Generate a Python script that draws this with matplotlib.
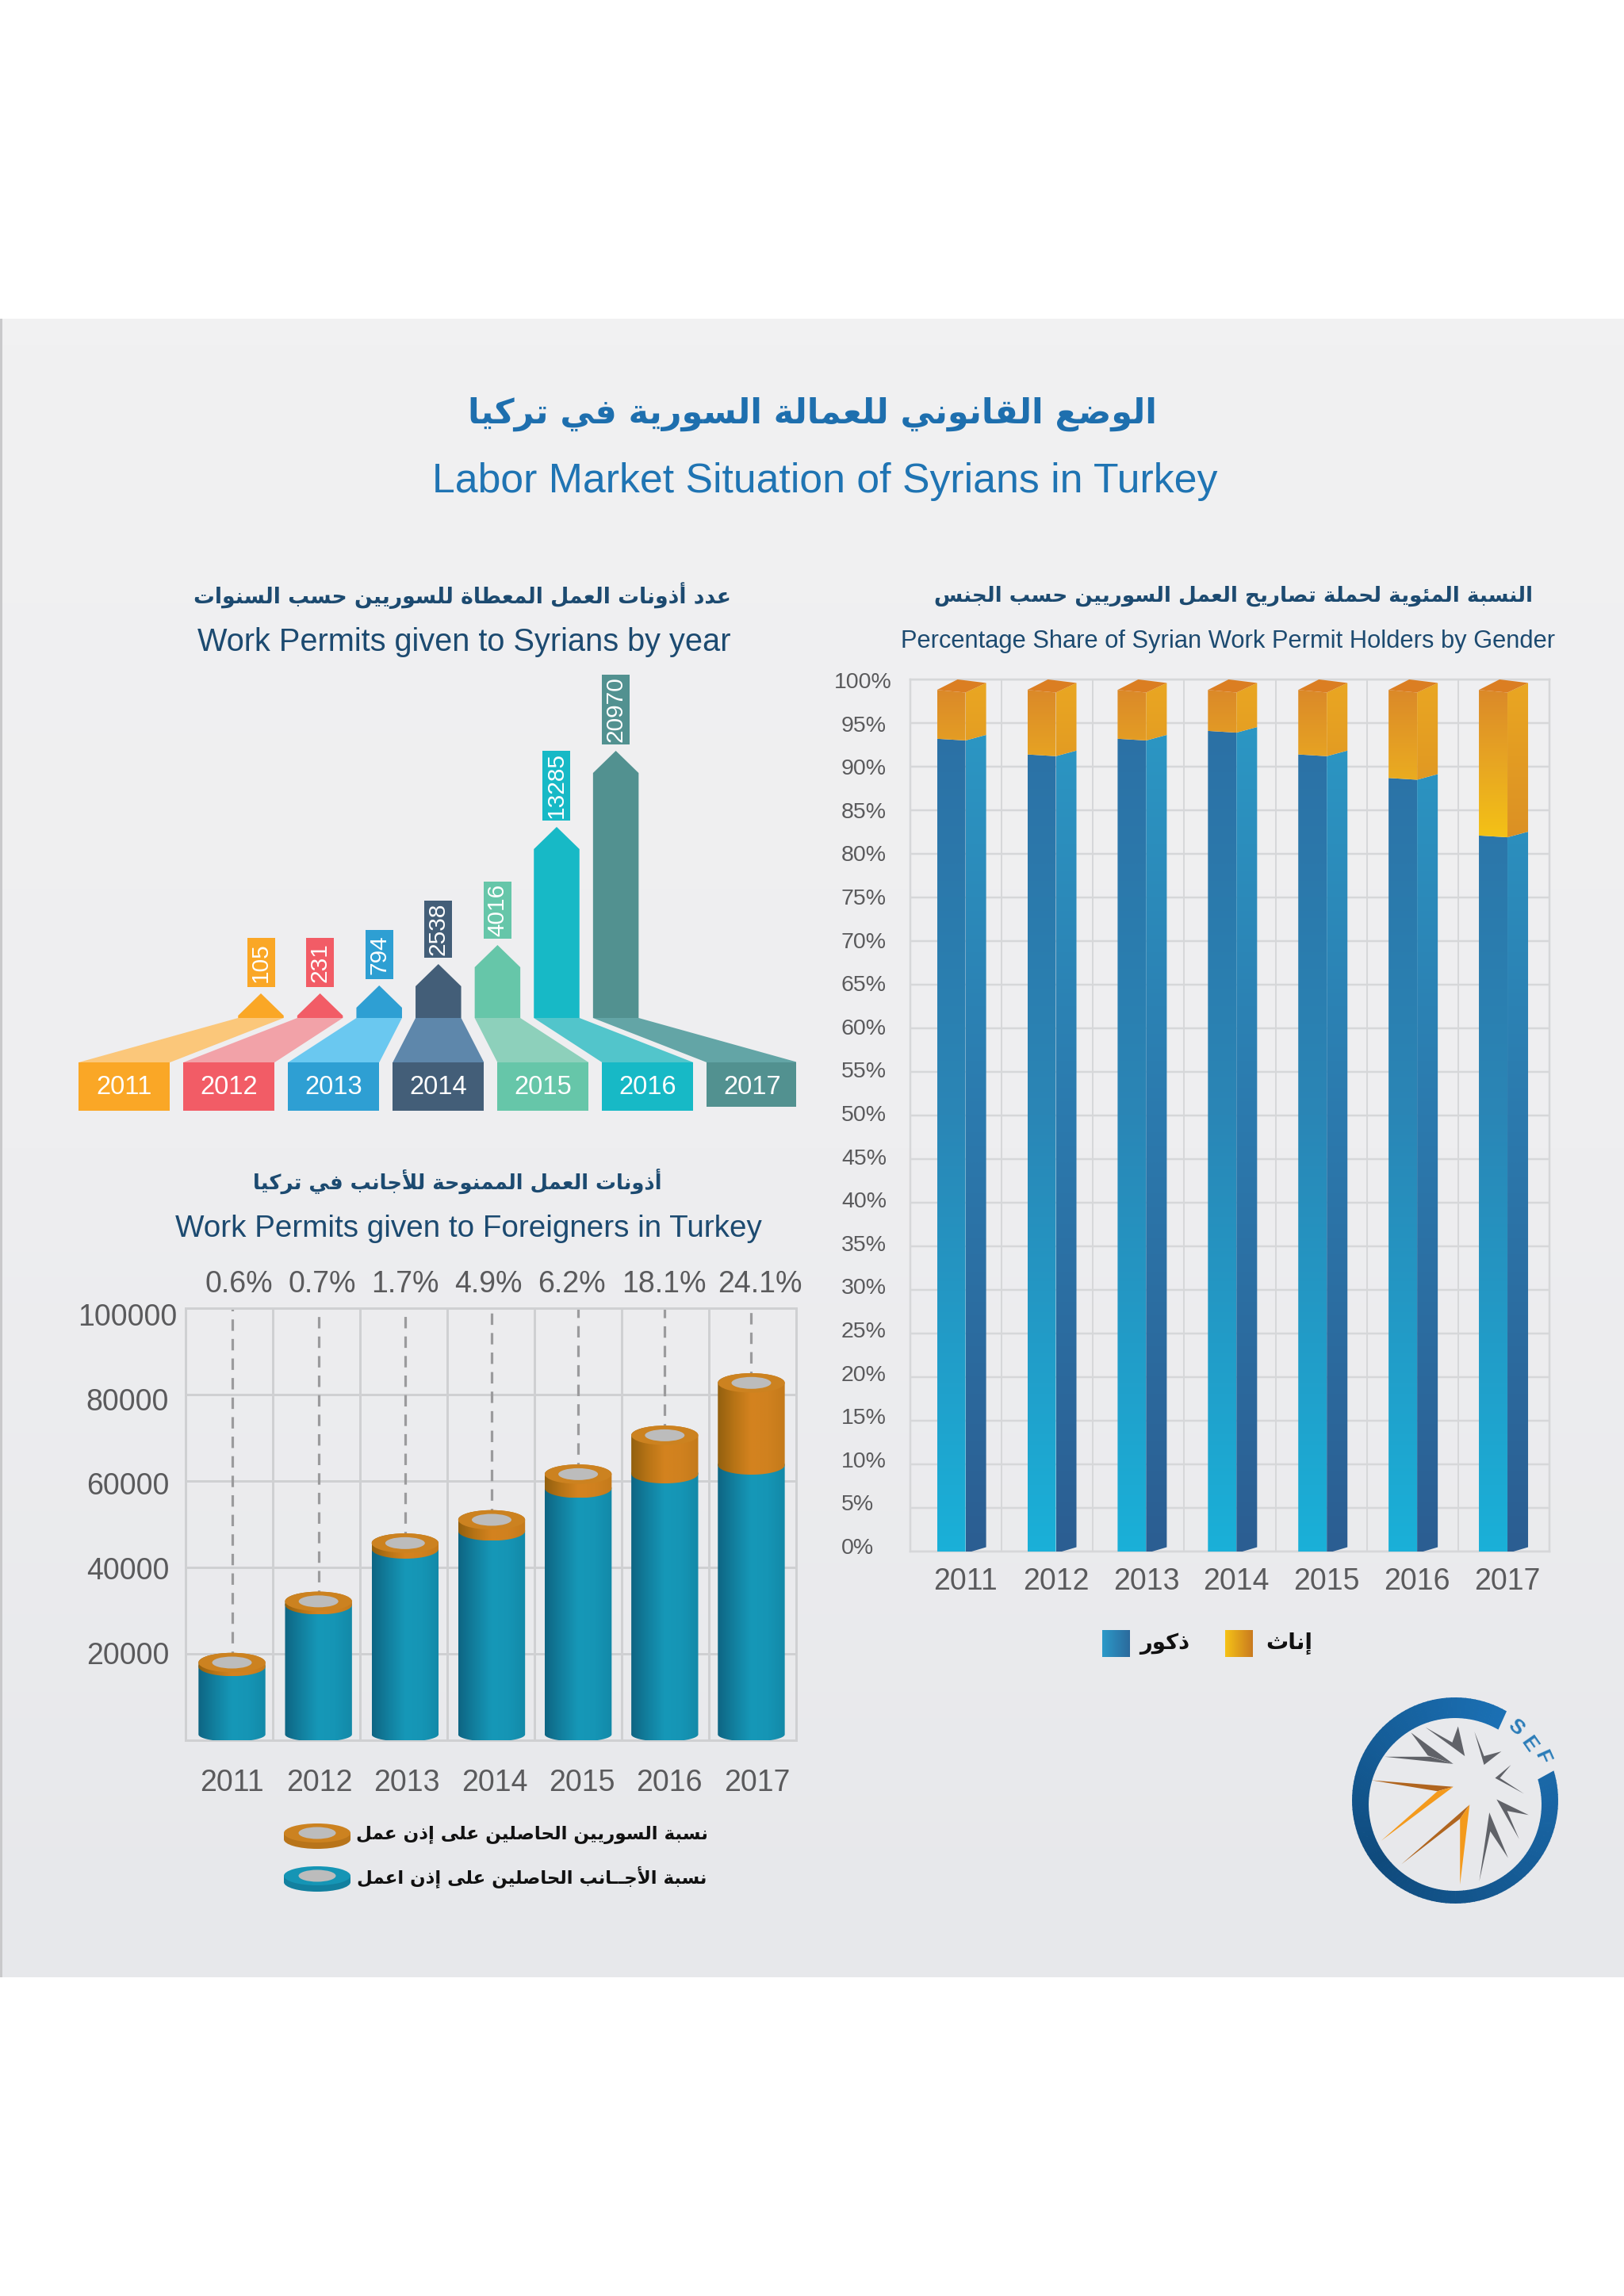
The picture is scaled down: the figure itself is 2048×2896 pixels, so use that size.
import unicodedata
import numpy as np
import matplotlib
matplotlib.use("Agg")
from matplotlib import pyplot as plt
from matplotlib.colors import LinearSegmentedColormap
from matplotlib.patches import Polygon, Ellipse, Rectangle
from matplotlib.transforms import Affine2D

W, H = 2048, 2896
PX = 0.72  # points per pixel at dpi 100

# data
years = ["2011", "2012", "2013", "2014", "2015", "2016", "2017"]

syrian_permits = ["105", "231", "794", "2538", "4016", "13285", "20970"]
arrow_heights = [31, 31, 41, 68, 92, 241, 337]

foreign_permits = [17080, 31350, 44270, 48430, 58320, 61690, 63710]
syrian_part = [900, 790, 1350, 2580, 3260, 8880, 18990]
syrian_share = ["0.6%", "0.7%", "1.7%", "4.9%", "6.2%", "18.1%", "24.1%"]
foreign_ticks = [20000, 40000, 60000, 80000, 100000]

male_share = [93.0, 91.2, 93.0, 93.9, 91.2, 88.5, 81.9]
percent_ticks = list(range(0, 101, 5))

# styles
box_colors = ["#faa726", "#f25c66", "#2e9fd3", "#435e78", "#66c6a9", "#17b9c6", "#529190"]
fan_colors = ["#fbc77a", "#f2a2a8", "#6ac8f0", "#5e87ab", "#8dd0bb", "#52c5cb", "#63a5a6"]
share_x = [301, 406, 511, 616, 721, 837, 958]
TITLE_BLUE = "#1f74b3"
NAVY = "#1c4a70"
GREY_TXT = "#5a5a5c"
GRID = "#cfd0d2"

AR_LIG = {"لا": "ARABIC LIGATURE LAM WITH ALEF",
          "لأ": "ARABIC LIGATURE LAM WITH ALEF WITH HAMZA ABOVE",
          "لإ": "ARABIC LIGATURE LAM WITH ALEF WITH HAMZA BELOW"}


def form(ch, kind):
    try:
        return unicodedata.lookup(unicodedata.name(ch) + " " + kind + " FORM")
    except KeyError:
        return None


def shape_ar(text):
    # matplotlib does no arabic shaping, so pick presentation forms by hand
    out = []
    i = 0
    n = len(text)

    def joins_forward(c):
        return c == "ـ" or form(c, "INITIAL") is not None

    def joins_back(c):
        return c == "ـ" or form(c, "FINAL") is not None

    while i < n:
        ch = text[i]
        prev = text[i - 1] if i > 0 else " "
        after_join = joins_forward(prev) if prev != " " else False
        if text[i:i + 2] in AR_LIG:
            kind = "FINAL" if after_join else "ISOLATED"
            out.append(unicodedata.lookup(AR_LIG[text[i:i + 2]] + " " + kind + " FORM"))
            i += 2
            continue
        nxt = text[i + 1] if i + 1 < n else " "
        if ch == " " or ch == "ـ":
            out.append(ch)
            i += 1
            continue
        before_join = joins_forward(ch) and nxt != " " and joins_back(nxt)
        if after_join and before_join:
            kind = "MEDIAL"
        elif after_join:
            kind = "FINAL"
        elif before_join:
            kind = "INITIAL"
        else:
            kind = "ISOLATED"
        out.append(form(ch, kind) or ch)
        i += 1
    return "".join(out)[::-1]


def px_axes(left, top, right, bottom):
    ax = fig.add_axes([left / W, 1 - bottom / H, (right - left) / W, (bottom - top) / H])
    ax.patch.set_alpha(0)
    return ax


def fit_text(s, x0, x1, y, **kw):
    # size a text so it spans x0..x1 in picture pixels
    t = ax_bg.text((x0 + x1) / 2, y, s, ha="center", va="center", fontsize=30, **kw)
    w = t.get_window_extent(renderer).width
    t.set_fontsize(30 * (x1 - x0) / w)
    return t


def fill_gradient(ax, poly, colors, extent, horizontal=False, zorder=3):
    cmap = LinearSegmentedColormap.from_list("g", colors)
    ramp = np.linspace(0, 1, 256)
    ramp = ramp.reshape(1, -1) if horizontal else ramp.reshape(-1, 1)
    im = ax.imshow(ramp, cmap=cmap, extent=extent, origin="lower", aspect="auto",
                   zorder=zorder, interpolation="bilinear", vmin=0, vmax=1)
    clip = Polygon(poly, closed=True, transform=ax.transData, fc="none", ec="none")
    ax.add_patch(clip)
    im.set_clip_path(clip)
    im.set_clip_on(True)
    return im


def shift_labels(labels, dx=0, dy=0):
    for lab in labels:
        lab.set_transform(lab.get_transform() + Affine2D().translate(dx, dy))


fig = plt.figure(figsize=(W / 100, H / 100), dpi=100, facecolor="white")
renderer = fig.canvas.get_renderer()

# page, titles, logo all live on one pixel axes
ax_bg = fig.add_axes([0, 0, 1, 1], zorder=0)
ax_bg.set_xlim(0, W)
ax_bg.set_ylim(H, 0)
ax_bg.axis("off")
ax_bg.imshow(np.linspace(0, 1, 64).reshape(-1, 1),
             cmap=LinearSegmentedColormap.from_list("bg", ["#f1f1f2", "#eeeef0", "#e7e8eb"]),
             extent=(0, W, 2494, 402), aspect="auto", zorder=0)
ax_bg.set_xlim(0, W)
ax_bg.set_ylim(H, 0)
ax_bg.add_patch(Rectangle((0, 402), 2.5, 2092, fc="#c9c9cb", ec="none", zorder=1))

LATIN = "Liberation Sans"
ARAB = "DejaVu Sans"
fit_text(shape_ar("الوضع القانوني للعمالة السورية في تركيا"), 591, 1458, 522,
         color="#1e6fae", family=ARAB, weight="bold")
fit_text("Labor Market Situation of Syrians in Turkey", 546, 1535, 607,
         color=TITLE_BLUE, family=LATIN)
fit_text(shape_ar("عدد أذونات العمل المعطاة للسوريين حسب السنوات"), 244, 921, 751,
         color=NAVY, family=ARAB, weight="bold")
fit_text("Work Permits given to Syrians by year", 249, 922, 810, color=NAVY, family=LATIN)
fit_text(shape_ar("أذونات العمل الممنوحة للأجانب في تركيا"), 319, 834, 1490,
         color=NAVY, family=ARAB, weight="bold")
fit_text("Work Permits given to Foreigners in Turkey", 221, 961, 1550, color=NAVY, family=LATIN)
fit_text(shape_ar("النسبة المئوية لحملة تصاريح العمل السوريين حسب الجنس"), 1179, 1931, 752,
         color=NAVY, family=ARAB, weight="bold")
fit_text("Percentage Share of Syrian Work Permit Holders by Gender", 1137, 1961, 809,
         color=NAVY, family=LATIN)

# arrows chart: one data unit on y is one pixel
ax_arrows = px_axes(98, 840, 1004, 1410)
ax_arrows.set_xlim((98 - 329) / 74.6, (1004 - 329) / 74.6)
ax_arrows.set_ylim(-126, 444)
ax_arrows.axis("off")
arrow_w = 57.5 / 74.6
box_w = 115 / 74.6
for i, year in enumerate(years):
    h = arrow_heights[i]
    sh = max(0, h - 28)
    ax_arrows.add_patch(Polygon([(i - arrow_w / 2, 0), (i - arrow_w / 2, sh), (i, h),
                                 (i + arrow_w / 2, sh), (i + arrow_w / 2, 0)],
                                fc=box_colors[i], ec="none"))
    bx = 3 + (i - 3) * 132.0 / 74.6
    bottom = -117 if i < 6 else -112
    ax_arrows.add_patch(Polygon([(i - arrow_w / 2, 0), (i + arrow_w / 2, 0),
                                 (bx + box_w / 2, -56), (bx - box_w / 2, -56)],
                                fc=fan_colors[i], ec="none"))
    ax_arrows.add_patch(Rectangle((bx - box_w / 2, bottom), box_w, bottom * -1 - 56,
                                  fc=box_colors[i], ec="none"))
    ax_arrows.text(bx, -88, year, color="white", family=LATIN, fontsize=23.5,
                   ha="center", va="center")
    label = syrian_permits[i]
    length = {3: 62, 4: 72, 5: 88}[len(label)]
    ax_arrows.add_patch(Rectangle((i - 17.5 / 74.6, h + 8), 35 / 74.6, length,
                                  fc=box_colors[i], ec="none"))
    ax_arrows.text(i, h + 8 + length / 2, label, color="white", family=LATIN, fontsize=21.5,
                   rotation=90, ha="center", va="center")

# foreigners chart
ax_f = px_axes(234, 1650, 1004, 2195)
ax_f.set_xlim(-0.536, 6.518)
ax_f.set_ylim(0, 100000)
ax_f.autoscale(False)
for sp in ax_f.spines.values():
    sp.set_color(GRID)
    sp.set_linewidth(3 * PX)
ax_f.set_yticks(foreign_ticks)
ax_f.set_yticklabels([str(v) for v in foreign_ticks], family=LATIN, fontsize=27, color=GREY_TXT,
                     ha="center")
ax_f.tick_params(axis="y", length=0, pad=73 * PX)
for v, lab in zip(foreign_ticks, ax_f.get_yticklabels()):
    shift_labels([lab], dy=1 + (v - 20000) * -9 / 80000)
ax_f.set_xticks(np.arange(7) * 110.4 / 109.2)
ax_f.set_xticklabels(years, family=LATIN, fontsize=27, color=GREY_TXT, va="center")
ax_f.tick_params(axis="x", length=0, pad=54 * PX)
ax_f.yaxis.grid(True, color=GRID, lw=3 * PX, zorder=1)
ax_f.set_axisbelow(True)
ax_f.vlines(np.linspace(-0.536, 6.518, 8), 0, 100000, color=GRID, lw=3 * PX, zorder=1)

a = 0.3865
top_h = 12.25 / 545 * 100000
base_h = 9 / 545 * 100000
base_v = 1350
blue_ramp = ["#0e6583", "#12809f", "#1698b8", "#1595b5", "#1389a8"]
orange_ramp = ["#93600f", "#b87416", "#d4831f", "#d0811f", "#c47a1b"]
theta = np.linspace(np.pi, 2 * np.pi, 60)


def cylinder_part(x, v0, h0, v1, ramp, zorder):
    low = np.column_stack([x + a * np.cos(theta), v0 + h0 * np.sin(theta)])
    up = np.column_stack([x + a * np.cos(theta[::-1]), v1 - top_h * np.sin(theta[::-1])])
    poly = np.vstack([low, up])
    fill_gradient(ax_f, poly, ramp, (x - a, x + a, v0 - h0, v1 + top_h), horizontal=True,
                  zorder=zorder)


for i in range(len(years)):
    boundary = foreign_permits[i]
    total = boundary + syrian_part[i]
    ax_f.vlines(i, total, 100000, color="#9b9b9d", lw=3.2 * PX, linestyles=(0, (4.5, 3.2)), zorder=2)
    cylinder_part(i, base_v, base_h, boundary, blue_ramp, 3)
    cylinder_part(i, boundary, top_h, total, orange_ramp, 4)
    ax_f.add_patch(Ellipse((i, total), 2 * a, 2 * top_h, fc="#cc8220", ec="none", zorder=5))
    ax_f.add_patch(Ellipse((i, total), 50 / 109.2, 15 / 545 * 100000, fc="#bcbcbc", ec="none", zorder=6))

for x, s in zip(share_x, syrian_share):
    ax_bg.text(x, 1620, s, family=LATIN, fontsize=27, color=GREY_TXT, ha="center", va="center")

# legend of the foreigners chart
for y, side, face, txt in [(2312, "#b8741a", "#cc8220", "نسبة السوريين الحاصلين على إذن عمل"),
                           (2366, "#12809f", "#1595b5", "نسبة الأجــانب الحاصلين على إذن اعمل")]:
    ax_bg.add_patch(Rectangle((358, y), 84, 8, fc=side, ec="none", zorder=2))
    ax_bg.add_patch(Ellipse((400, y + 8), 84, 24, fc=side, ec="none", zorder=2))
    ax_bg.add_patch(Ellipse((400, y), 84, 24, fc=face, ec="none", zorder=3))
    ax_bg.add_patch(Ellipse((400, y), 47, 15, fc="#bcbcbc", ec="none", zorder=4))
    fit_text(shape_ar(txt), 449, 892, y + 2, color="#111111", family=ARAB, weight="bold")

# gender chart
ax_g = px_axes(1148, 857, 1954, 1957)
ax_g.set_xlim(-0.611, 6.465)
ax_g.set_ylim(0, 100)
ax_g.autoscale(False)
for sp in ax_g.spines.values():
    sp.set_color("#d6d7d9")
    sp.set_linewidth(2.5 * PX)
ax_g.set_yticks(percent_ticks)
ax_g.set_yticklabels([f"{v}%" for v in percent_ticks], family=LATIN, fontsize=20.5, color=GREY_TXT,
                     ha="left")
ax_g.tick_params(axis="y", length=0, pad=87 * PX)
for v, lab in zip(percent_ticks, ax_g.get_yticklabels()):
    shift_labels([lab], dx=-9 if v == 100 else 0, dy=7 - 0.08 * v)
ax_g.set_xticks(range(len(years)))
ax_g.set_xticklabels(years, family=LATIN, fontsize=27, color=GREY_TXT, va="center")
ax_g.tick_params(axis="x", length=0, pad=38 * PX)
ax_g.yaxis.grid(True, color="#d6d7d9", lw=2.5 * PX, zorder=1)
ax_g.set_axisbelow(True)
ax_g.vlines(np.linspace(-0.611, 6.465, 8), 0, 100, color="#d6d7d9", lw=2 * PX, zorder=1)

fw = 36 / 113.9
sw = 26 / 113.9
front_male = ["#1ab0d8", "#2a86b6", "#2c6ea3"]
side_male = ["#2b5e92", "#2b7aae", "#2b9ac6"]
front_female = ["#f7c813", "#e8a722", "#d9852a"]
side_female = ["#da8e24", "#eaa722"]
for i, m in enumerate(male_share):
    x0, x1, x2 = i - fw, i, i + sw
    fill_gradient(ax_g, [(x0, 0), (x1, -0.2), (x1, m), (x0, m + 0.2)], front_male, (x0, x1, 0, 100), zorder=3)
    fill_gradient(ax_g, [(x1, -0.2), (x2, 0.5), (x2, m + 0.64), (x1, m)], side_male, (x1, x2, 0, 100), zorder=3)
    fill_gradient(ax_g, [(x0, m + 0.2), (x1, m), (x1, 98.5), (x0, 98.8)], front_female, (x0, x1, 80, 100), zorder=4)
    fill_gradient(ax_g, [(x1, m), (x2, m + 0.64), (x2, 99.6), (x1, 98.5)], side_female, (x1, x2, 80, 100), zorder=4)
    ax_g.add_patch(Polygon([(x0, 98.8), (x1, 98.5), (x2, 99.6), (x0 + sw, 100)], fc="#db7e22", ec="none", zorder=5, clip_on=False))

# gender legend
fill_gradient(ax_bg, [(1390, 2056), (1425, 2056), (1425, 2090), (1390, 2090)],
              ["#2c9ac9", "#2b6a9c"], (1390, 1425, 2090, 2056), horizontal=True)
fill_gradient(ax_bg, [(1545, 2056), (1580, 2056), (1580, 2090), (1545, 2090)],
              ["#f6c317", "#c97a1f"], (1545, 1580, 2090, 2056), horizontal=True)
fit_text(shape_ar("ذكور"), 1437, 1500, 2073, color="#111111", family=ARAB, weight="bold")
fit_text(shape_ar("إناث"), 1596, 1655, 2073, color="#111111", family=ARAB, weight="bold")
ax_bg.set_xlim(0, W)
ax_bg.set_ylim(H, 0)

# logo: ring with a gap on the upper right, inner circle sits a bit low so the bottom is thin
ring_a = LinearSegmentedColormap.from_list("ring", ["#1b70b4", "#0f4a7c", "#1a68a8"])
cx, cy = 1835, 2271
angles = np.radians(np.linspace(60, 376.5, 120))
for k in range(len(angles) - 1):
    t0, t1 = angles[k], angles[k + 1] + 0.006
    # angle is counted anticlockwise on the page from the right
    pts = [(cx + 130 * np.cos(t0), cy - 130 * np.sin(t0)),
           (cx + 130 * np.cos(t1), cy - 130 * np.sin(t1)),
           (cx + 109 * np.cos(t1), cy + 5 - 109 * np.sin(t1)),
           (cx + 109 * np.cos(t0), cy + 5 - 109 * np.sin(t0))]
    ax_bg.add_patch(Polygon(pts, fc=ring_a(k / (len(angles) - 2)), ec="none", zorder=2))
for s, x, y, rot in [("S", 1911, 2179, -42), ("E", 1928, 2200, -55), ("F", 1945, 2217, -66)]:
    ax_bg.text(x, y, s, family=LATIN, weight="bold", fontsize=19, color="#2a7cb8", rotation=rot,
               ha="center", va="center")

shards_grey = [
    [(1220, 975), (1308, 1075), (1255, 1048)],
    [(1250, 958), (1332, 1050), (1310, 1010)],
    [(1318, 955), (1332, 1050), (1305, 1010)],
    [(1165, 1052), (1308, 1075), (1260, 1052)],
    [(1352, 972), (1372, 1078), (1408, 1035), (1372, 1050)],
    [(1455, 1170), (1395, 1120), (1428, 1078), (1405, 1120)],
    [(1465, 1238), (1398, 1188), (1445, 1315), (1420, 1225)],
    [(1362, 1450), (1383, 1230), (1422, 1375), (1385, 1290)],
]
shards_orange = [
    [(1138, 1127), (1308, 1148), (1275, 1162)],
    [(1158, 1320), (1308, 1148), (1275, 1162)],
    [(1200, 1395), (1342, 1205), (1322, 1250)],
    [(1322, 1460), (1342, 1205), (1322, 1250)],
]
shard_cols = ["#b0651f", "#f49a1c", "#b0651f", "#f49a1c"]


def logo_xy(pts):
    return [(1040 + x / 1.65, 1800 + y / 2.53) for x, y in pts]


for pts in shards_grey:
    ax_bg.add_patch(Polygon(logo_xy(pts), fc="#606268", ec="none", zorder=2))
for pts, col in zip(shards_orange, shard_cols):
    ax_bg.add_patch(Polygon(logo_xy(pts), fc=col, ec="none", zorder=2))

fig.savefig("out.png", dpi=100, facecolor="white")
